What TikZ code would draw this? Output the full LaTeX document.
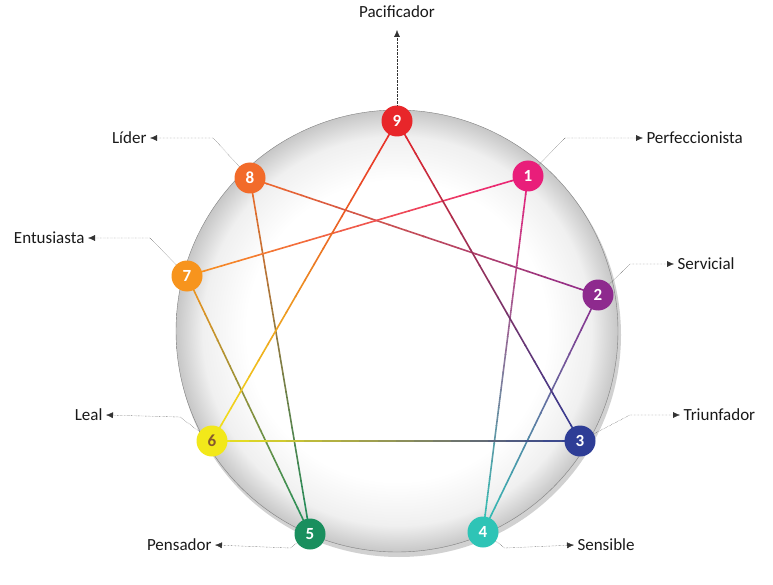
\documentclass[tikz,border=0pt]{standalone}
\usepackage{fontspec}
\setmainfont{Carlito}
\usetikzlibrary{calc,arrows.meta,shadows}
\pgfdeclareradialshading{sphere}{\pgfpoint{0bp}{0bp}}{color(0bp)=(white); color(17bp)=(white); color(22bp)=(black!6); color(25bp)=(black!22); color(50bp)=(black!25)}
\definecolor{k9}{HTML}{E8262A}\definecolor{k1}{HTML}{E91E7A}\definecolor{k2}{HTML}{8E2A8E}
\definecolor{k3}{HTML}{2E3D96}\definecolor{k4}{HTML}{2EC4B6}\definecolor{k5}{HTML}{1A8F5E}
\definecolor{k6}{HTML}{F2E81A}\definecolor{k7}{HTML}{F7941D}\definecolor{k8}{HTML}{F26B2A}
\tikzset{num/.style={circle,minimum size=31pt,inner sep=0pt,text=white,font=\bfseries\fontsize{17}{19}\selectfont},
lab/.style={font=\fontsize{17}{19}\selectfont,text=black!90},
lead/.style={densely dotted,black!80,-{Latex[length=7pt,width=6pt]}}}
\newcommand{\gline}[4]{%
\foreach \i in {0,...,19}{\pgfmathsetmacro{\p}{100-\i*5-2.5}\pgfmathsetmacro{\ta}{\i/20}\pgfmathsetmacro{\tb}{(\i+1)/20+0.003}
\draw[#3!\p!#4,line width=1.6pt] ($(c#1)!\ta!(c#2)$) -- ($(c#1)!\tb!(c#2)$);}}
\begin{document}
\begin{tikzpicture}[x=1pt,y=-1pt]
\useasboundingbox (0,0) rectangle (773,585);
\fill[black!18] (399,335) circle (222);
\shade[shading=sphere,draw=black!50,thin] (397,331) circle (221);
\coordinate (c9) at (397,121);\coordinate (c1) at (528,176);\coordinate (c2) at (598,295);
\coordinate (c3) at (580,441);\coordinate (c4) at (483,532);\coordinate (c5) at (310,534);
\coordinate (c6) at (212,441);\coordinate (c7) at (187,276);\coordinate (c8) at (250,178);
\gline{1}{4}{k1}{k4}\gline{4}{2}{k4}{k2}\gline{2}{8}{k2}{k8}\gline{8}{5}{k8}{k5}\gline{5}{7}{k5}{k7}\gline{7}{1}{k7}{k1}
\gline{9}{3}{k9}{k3}\gline{3}{6}{k3}{k6}\gline{6}{9}{k6}{k9}
\foreach \k in {1,2,3,4,5,7,8,9}{\node[num,fill=k\k] (n\k) at (c\k) {\k};}
\node[num,fill=k6,text=brown!70!black] (n6) at (c6) {6};
\node[lab] (t9) at (397,12) {Pacificador};
\node[lab,anchor=west] (t1) at (643,138) {Perfeccionista};
\node[lab,anchor=west] (t2) at (674,264) {Servicial};
\node[lab,anchor=west] (t3) at (680,415) {Triunfador};
\node[lab,anchor=west] (t4) at (574,545) {Sensible};
\node[lab,anchor=east] (t5) at (215,545) {Pensador};
\node[lab,anchor=east] (t6) at (106,415) {Leal};
\node[lab,anchor=east] (t7) at (88,238) {Entusiasta};
\node[lab,anchor=east] (t8) at (150,138) {Líder};
\coordinate (a9) at (397,30);
\draw[lead] (n9) -- (a9);
\draw[lead] (n1) -- (565,138) -- (t1.west);
\draw[lead] (n2) -- (630,264) -- (t2.west);
\draw[lead] (n3) -- (630,415) -- (t3.west);
\draw[lead] (n4) -- (505,548) -- (t4.west);
\draw[lead] (n5) -- (290,548) -- (t5.east);
\draw[lead] (n6) -- (180,417) -- (t6.east);
\draw[lead] (n7) -- (150,238) -- (t7.east);
\draw[lead] (n8) -- (213,138) -- (t8.east);
\end{tikzpicture}
\end{document}
